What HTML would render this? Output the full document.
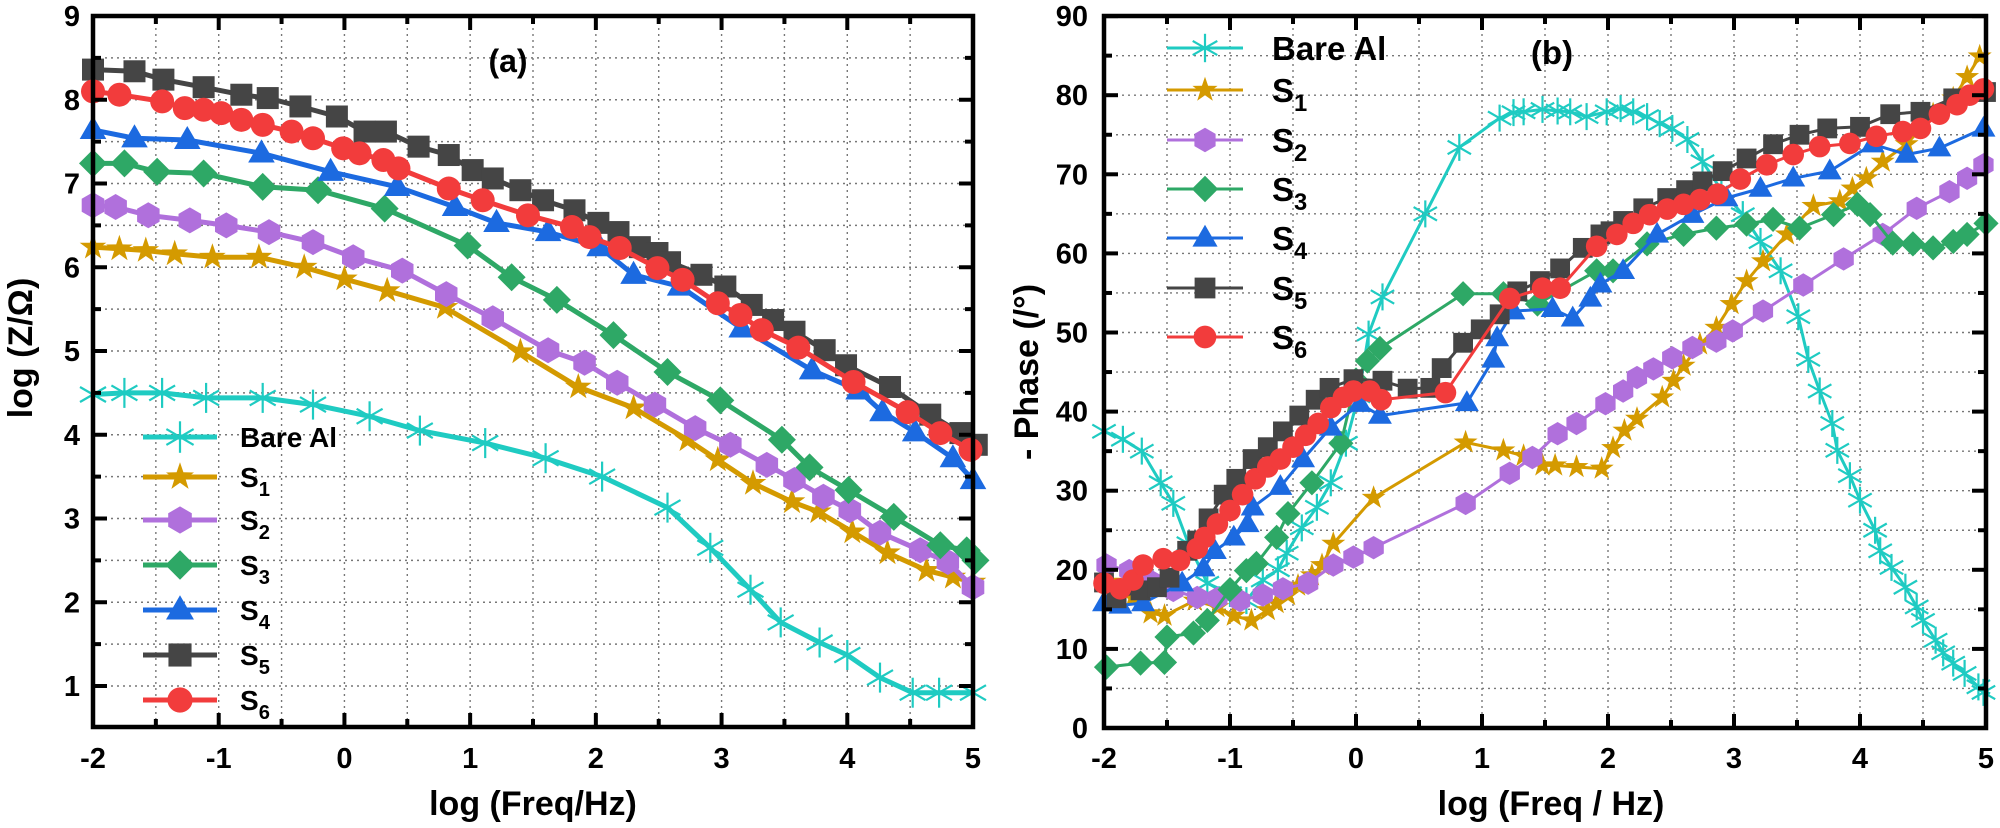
<!DOCTYPE html>
<html><head><meta charset="utf-8"><style>
html,body{margin:0;padding:0;background:#fff;}
svg{display:block;}
text{font-family:"Liberation Sans",Arial,sans-serif;font-weight:bold;fill:#000;}
</style></head><body>
<svg id="s" width="2000" height="828" viewBox="0 0 2000 828" xmlns="http://www.w3.org/2000/svg"></svg>
<script>
var S=document.getElementById('s'),out='';
var C={b:'#1fcbc2',s1:'#d49a00',s2:'#b070dc',s3:'#2ea866',s4:'#1c6ae0',s5:'#454545',s6:'#f23c3c'};
function mk(t,x,y,c,k){k=k||1;var r,p=[],i,a;
 if(t=='circle'){return '<circle cx="'+x+'" cy="'+y+'" r="'+(12*k)+'" fill="'+c+'"/>';}
 if(t=='square'){r=11*k;return '<rect x="'+(x-r)+'" y="'+(y-r)+'" width="'+2*r+'" height="'+2*r+'" fill="'+c+'"/>';}
 if(t=='diamond'){r=14*k;return '<polygon points="'+x+','+(y-r)+' '+(x+r)+','+y+' '+x+','+(y+r)+' '+(x-r)+','+y+'" fill="'+c+'"/>';}
 if(t=='tri'){r=14*k;return '<polygon points="'+x+','+(y-r)+' '+(x+r*0.95)+','+(y+r*0.65)+' '+(x-r*0.95)+','+(y+r*0.65)+'" fill="'+c+'"/>';}
 if(t=='hex'){r=13*k;for(i=0;i<6;i++){a=Math.PI/2+i*Math.PI/3;p.push((x+r*Math.cos(a)).toFixed(1)+','+(y+r*Math.sin(a)).toFixed(1));}return '<polygon points="'+p.join(' ')+'" fill="'+c+'"/>';}
 if(t=='star'){for(i=0;i<10;i++){a=-Math.PI/2+i*Math.PI/5;var rr=(i%2?5.5:14)*k;p.push((x+rr*Math.cos(a)).toFixed(1)+','+(y+rr*Math.sin(a)).toFixed(1));}return '<polygon points="'+p.join(' ')+'" fill="'+c+'"/>';}
 if(t=='ast'){r=15*k;var s='';for(i=0;i<3;i++){a=Math.PI/2+i*Math.PI/3;s+='<line x1="'+(x-r*Math.cos(a)).toFixed(1)+'" y1="'+(y-r*Math.sin(a)).toFixed(1)+'" x2="'+(x+r*Math.cos(a)).toFixed(1)+'" y2="'+(y+r*Math.sin(a)).toFixed(1)+'" stroke="'+c+'" stroke-width="2.2"/>';}return s;}
}
function panel(P){
 var X=function(v){return P.x0+(v+2)*(P.x1-P.x0)/7;},Y=P.Y,i,v;
 // grid
 for(v=-1.5;v<5;v+=0.5)out+='<line x1="'+X(v)+'" y1="'+P.top+'" x2="'+X(v)+'" y2="'+P.bot+'" stroke="#777" stroke-width="1.4" stroke-dasharray="2,4"/>';
 P.gy.forEach(function(g){out+='<line x1="'+P.x0+'" y1="'+Y(g)+'" x2="'+P.x1+'" y2="'+Y(g)+'" stroke="#777" stroke-width="1.4" stroke-dasharray="2,4"/>';});
 // series
 P.ser.forEach(function(s){var d=s.d.map(function(q){return X(q[0]).toFixed(1)+','+Y(q[1]).toFixed(1);}).join(' ');
  out+='<polyline points="'+d+'" fill="none" stroke="'+s.c+'" stroke-width="'+P.lw+'" stroke-linejoin="round"/>';
  s.d.forEach(function(q){out+=mk(s.m,X(q[0]),Y(q[1]),s.c,P.k);});});
 // ticks
 for(v=-2;v<=5;v+=0.5){var L=(v%1==0)?14:8,x=X(v);
  out+='<line x1="'+x+'" y1="'+P.bot+'" x2="'+x+'" y2="'+(P.bot-L)+'" stroke="#000" stroke-width="4"/>';
  out+='<line x1="'+x+'" y1="'+P.top+'" x2="'+x+'" y2="'+(P.top+L)+'" stroke="#000" stroke-width="4"/>';
  if(v%1==0)out+='<text x="'+x+'" y="768" font-size="29" text-anchor="middle">'+v+'</text>';}
 P.yt.forEach(function(t){var y=Y(t[0]),L=t[1]?14:8;
  out+='<line x1="'+P.x0+'" y1="'+y+'" x2="'+(P.x0+L)+'" y2="'+y+'" stroke="#000" stroke-width="4"/>';
  out+='<line x1="'+P.x1+'" y1="'+y+'" x2="'+(P.x1-L)+'" y2="'+y+'" stroke="#000" stroke-width="4"/>';
  if(t[1])out+='<text x="'+P.lx+'" y="'+(y+10)+'" font-size="29" text-anchor="end">'+t[0]+'</text>';});
 out+='<rect x="'+P.x0+'" y="'+P.top+'" width="'+(P.x1-P.x0)+'" height="'+(P.bot-P.top)+'" fill="none" stroke="#000" stroke-width="4.5"/>';
 // legend
 P.ser.forEach(function(s,i){var y=P.lg.y[i];
  out+='<line x1="'+P.lg.x1+'" y1="'+y+'" x2="'+P.lg.x2+'" y2="'+y+'" stroke="'+s.c+'" stroke-width="'+P.lw+'"/>';
  out+=mk(s.m,(P.lg.x1+P.lg.x2)/2,y,s.c,P.k*1.05);
  var lab=i==0?'Bare Al':'S<tspan dy="9" font-size="'+(P.lg.fs*0.72)+'">'+i+'</tspan>';
  out+='<text x="'+P.lg.tx+'" y="'+(y+P.lg.fs*0.36)+'" font-size="'+P.lg.fs+'">'+lab+'</text>';});
}
var A={x0:93,x1:973,top:16,bot:727,Y:function(v){return 16+(9-v)*83.75;},lw:5,k:1,lx:80,
 gy:[1,1.5,2,2.5,3,3.5,4,4.5,5,5.5,6,6.5,7,7.5,8,8.5],
 yt:[[1,1],[1.5,0],[2,1],[2.5,0],[3,1],[3.5,0],[4,1],[4.5,0],[5,1],[5.5,0],[6,1],[6.5,0],[7,1],[7.5,0],[8,1],[8.5,0],[9,1]],
 lg:{x1:143,x2:217,tx:240,fs:28,y:[437,477,520,565,610,655,700]},
 ser:[
 {c:C.b,m:'ast',d:[[-2,4.48],[-1.75,4.5],[-1.45,4.5],[-1.1,4.44],[-0.65,4.44],[-0.25,4.36],[0.2,4.22],[0.6,4.05],[1.12,3.9],[1.6,3.72],[2.05,3.5],[2.57,3.13],[2.91,2.65],[3.23,2.15],[3.47,1.76],[3.78,1.52],[4.0,1.37],[4.26,1.1],[4.52,0.92],[4.73,0.92],[5,0.92]]},
 {c:C.s1,m:'star',d:[[-2,6.24],[-1.79,6.22],[-1.58,6.2],[-1.35,6.16],[-1.05,6.12],[-0.68,6.12],[-0.32,6.0],[0,5.86],[0.34,5.72],[0.8,5.52],[1.4,4.99],[1.86,4.57],[2.3,4.32],[2.73,3.94],[2.97,3.7],[3.25,3.42],[3.56,3.2],[3.77,3.08],[4.04,2.84],[4.32,2.59],[4.63,2.38],[4.84,2.3],[5,2.24]]},
 {c:C.s2,m:'hex',d:[[-2,6.74],[-1.82,6.72],[-1.56,6.62],[-1.23,6.56],[-0.94,6.5],[-0.6,6.42],[-0.25,6.3],[0.07,6.12],[0.46,5.96],[0.81,5.68],[1.18,5.39],[1.62,5.01],[1.91,4.86],[2.17,4.62],[2.47,4.36],[2.79,4.08],[3.07,3.88],[3.36,3.64],[3.58,3.46],[3.81,3.26],[4.02,3.1],[4.26,2.83],[4.58,2.62],[4.8,2.48],[5,2.18]]},
 {c:C.s3,m:'diamond',d:[[-2,7.24],[-1.75,7.24],[-1.49,7.14],[-1.12,7.12],[-0.65,6.96],[-0.21,6.92],[0.32,6.7],[0.98,6.26],[1.33,5.88],[1.69,5.61],[2.14,5.19],[2.57,4.75],[2.99,4.41],[3.48,3.94],[3.7,3.61],[4.01,3.34],[4.37,3.02],[4.74,2.68],[4.95,2.62],[5.02,2.5]]},
 {c:C.s4,m:'tri',d:[[-2,7.64],[-1.67,7.54],[-1.25,7.52],[-0.66,7.36],[-0.11,7.14],[0.42,6.96],[0.88,6.72],[1.21,6.53],[1.62,6.42],[2.03,6.24],[2.3,5.91],[2.67,5.77],[3.16,5.27],[3.72,4.77],[4.09,4.53],[4.28,4.27],[4.54,4.03],[4.84,3.72],[5,3.46]]},
 {c:C.s5,m:'square',d:[[-2,8.36],[-1.67,8.34],[-1.44,8.24],[-1.12,8.15],[-0.82,8.06],[-0.61,8.02],[-0.35,7.92],[-0.06,7.8],[0.16,7.62],[0.33,7.62],[0.59,7.44],[0.83,7.34],[1.02,7.16],[1.18,7.06],[1.4,6.92],[1.58,6.8],[1.83,6.68],[2.02,6.53],[2.18,6.42],[2.35,6.24],[2.49,6.17],[2.59,6.06],[2.84,5.91],[3.03,5.77],[3.24,5.55],[3.41,5.37],[3.58,5.23],[3.82,5.01],[3.99,4.83],[4.34,4.57],[4.66,4.24],[4.9,4.02],[5.03,3.88]]},
 {c:C.s6,m:'circle',d:[[-2,8.1],[-1.79,8.06],[-1.45,7.98],[-1.27,7.9],[-1.12,7.88],[-0.98,7.84],[-0.82,7.76],[-0.65,7.7],[-0.42,7.62],[-0.25,7.54],[-0.01,7.42],[0.12,7.36],[0.31,7.28],[0.43,7.18],[0.83,6.94],[1.1,6.8],[1.46,6.62],[1.81,6.48],[1.95,6.36],[2.19,6.23],[2.49,5.99],[2.69,5.85],[2.97,5.57],[3.15,5.43],[3.32,5.25],[3.61,5.04],[4.05,4.63],[4.48,4.27],[4.74,4.02],[4.98,3.82]]}
 ]};
var B={x0:1104,x1:1986,top:16,bot:728,Y:function(v){return 728-v*7.91;},lw:3,k:0.9,lx:1088,
 gy:[5,10,15,20,25,30,35,40,45,50,55,60,65,70,75,80,85],
 yt:[],
 lg:{x1:1167,x2:1243,tx:1272,fs:33,y:[48,90,140,189,238,288,337]},
 ser:[
 {c:C.b,m:'ast',d:[[-2,37.5],[-1.85,36.5],[-1.7,35],[-1.55,31],[-1.45,28.4],[-1.33,23.3],[-1.18,18.3],[-1,17],[-0.87,16.1],[-0.74,18.7],[-0.62,20],[-0.55,22.1],[-0.43,25.3],[-0.31,27.9],[-0.2,31],[-0.08,36],[0.02,42],[0.1,49.8],[0.21,54.5],[0.55,65],[0.82,73.4],[1.14,77.1],[1.25,77.8],[1.33,77.9],[1.48,78.2],[1.6,78],[1.7,77.9],[1.83,77.3],[1.99,77.9],[2.1,78.3],[2.2,77.9],[2.31,77.3],[2.41,76.4],[2.51,75.8],[2.63,74.4],[2.75,71.6],[2.9,68],[3.07,64.9],[3.21,61.5],[3.37,57.8],[3.51,52],[3.59,46.6],[3.68,42.6],[3.78,38.5],[3.82,35.1],[3.92,31.9],[4.0,28.8],[4.12,25],[4.16,22.4],[4.25,20.3],[4.36,17.8],[4.45,15.3],[4.5,13.6],[4.6,11.1],[4.66,9.5],[4.74,8.2],[4.83,6.9],[4.94,5.2],[4.98,4.5]]},
 {c:C.s1,m:'star',d:[[-1.95,18.5],[-1.77,16.5],[-1.63,14.5],[-1.52,14.2],[-1.28,16.1],[-1.1,15.3],[-0.97,14.2],[-0.83,13.6],[-0.7,14.9],[-0.63,15.8],[-0.54,16.8],[-0.46,18],[-0.35,19.3],[-0.27,20.6],[-0.18,23.3],[0.14,29.1],[0.87,36.1],[1.17,35.1],[1.33,34.4],[1.48,33.2],[1.58,33.2],[1.75,33],[1.95,32.8],[2.04,35.4],[2.13,37.6],[2.23,39.1],[2.43,41.8],[2.52,43.9],[2.6,45.8],[2.73,48.5],[2.86,50.6],[2.98,53.6],[3.1,56.5],[3.23,59],[3.42,62.4],[3.63,66],[3.84,66.6],[3.94,68.2],[4.05,69.5],[4.18,71.6],[4.37,73.8],[4.58,77.6],[4.74,79.6],[4.85,82.3],[4.95,84.9]]},
 {c:C.s2,m:'hex',d:[[-1.98,20.6],[-1.8,19.9],[-1.62,18.5],[-1.45,17.4],[-1.26,16.5],[-1.1,16.4],[-0.92,16.1],[-0.74,16.8],[-0.58,17.6],[-0.38,18.3],[-0.18,20.6],[-0.02,21.6],[0.14,22.8],[0.87,28.4],[1.22,32.2],[1.4,34.2],[1.6,37.2],[1.75,38.5],[1.98,41],[2.12,42.6],[2.23,44.3],[2.36,45.4],[2.51,46.8],[2.67,48.1],[2.86,48.9],[2.99,50.2],[3.23,52.7],[3.55,56],[3.87,59.3],[4.18,62.4],[4.45,65.7],[4.71,67.8],[4.85,69.5],[4.98,71.2]]},
 {c:C.s3,m:'diamond',d:[[-1.98,7.7],[-1.71,8.2],[-1.52,8.3],[-1.5,11.5],[-1.29,12],[-1.18,13.6],[-1.0,17.5],[-0.87,19.9],[-0.79,20.8],[-0.63,24.1],[-0.54,27.1],[-0.35,31],[-0.12,36],[0.0,44],[0.09,46.4],[0.19,48],[0.85,54.9],[1.17,54.9],[1.44,53.6],[1.91,57.8],[2.04,57.8],[2.31,61.2],[2.6,62.4],[2.86,63.2],[3.1,63.7],[3.31,64.3],[3.52,63.2],[3.79,64.9],[3.98,66.2],[4.08,64.9],[4.26,61.3],[4.42,61.2],[4.58,60.7],[4.74,61.5],[4.85,62.4],[5.0,63.8]]},
 {c:C.s4,m:'tri',d:[[-2.0,15.8],[-1.87,15.5],[-1.69,15.8],[-1.38,18.3],[-1.21,20.2],[-1.12,22.4],[-0.97,24.1],[-0.86,25.8],[-0.82,27.9],[-0.6,30.5],[-0.42,34],[-0.2,38],[0.03,41],[0.19,39.5],[0.88,41.1],[1.09,46.6],[1.12,49.3],[1.25,52.7],[1.56,53],[1.72,51.8],[1.86,54.3],[1.94,56.1],[2.12,57.8],[2.39,62.4],[2.67,64.9],[2.94,67],[3.21,68.2],[3.47,69.5],[3.76,70.4],[4.1,73.8],[4.37,72.5],[4.63,73.3],[4.98,75.8]]},
 {c:C.s5,m:'square',d:[[-2.0,18.4],[-1.9,16.4],[-1.71,17.4],[-1.58,17.8],[-1.48,19],[-1.34,22.4],[-1.26,23.7],[-1.17,26.5],[-1.05,29.5],[-0.95,31.5],[-0.82,34],[-0.7,35.5],[-0.58,37.5],[-0.45,39.5],[-0.32,41.5],[-0.21,43],[-0.02,44.1],[0.21,43.9],[0.41,42.9],[0.59,43],[0.68,45.5],[0.85,48.7],[0.99,50.4],[1.14,52.3],[1.28,55.2],[1.46,56.5],[1.62,58.1],[1.8,60.7],[1.94,62.4],[2.02,62.8],[2.12,64.1],[2.28,65.7],[2.47,67],[2.62,68],[2.75,69.1],[2.91,70.4],[3.1,72],[3.31,73.8],[3.52,75],[3.74,75.8],[4.0,76],[4.24,77.6],[4.48,77.9],[4.74,79.6],[5.0,80.4]]},
 {c:C.s6,m:'circle',d:[[-2.0,18.3],[-1.87,17.6],[-1.77,18.7],[-1.69,20.6],[-1.53,21.4],[-1.4,21.2],[-1.26,22.7],[-1.2,24.1],[-1.1,25.8],[-1.0,27.5],[-0.9,29.5],[-0.8,31.5],[-0.7,33],[-0.6,34],[-0.5,35.5],[-0.4,37],[-0.3,38.5],[-0.2,40.5],[-0.1,41.8],[-0.02,42.6],[0.11,42.6],[0.2,41.5],[0.71,42.4],[1.22,54.3],[1.48,55.6],[1.62,55.6],[1.91,60.9],[2.07,62.4],[2.2,63.8],[2.33,64.9],[2.47,65.6],[2.6,66.2],[2.73,66.8],[2.87,67.5],[3.05,69.4],[3.26,71.2],[3.47,72.5],[3.68,73.5],[3.92,73.9],[4.13,74.8],[4.34,75.4],[4.48,75.8],[4.63,77.6],[4.77,78.8],[4.87,80],[4.98,80.8]]}
 ]};
for(var t=0;t<=90;t+=5)B.yt.push([t,t%10==0]);
panel(A);panel(B);
out+='<text x="508" y="72" font-size="32" text-anchor="middle">(a)</text>';
out+='<text x="1552" y="64" font-size="33" text-anchor="middle">(b)</text>';
out+='<text transform="translate(32,348) rotate(-90)" font-size="34" text-anchor="middle">log (Z/&#937;)</text>';
out+='<text transform="translate(1038,372) rotate(-90)" font-size="34" text-anchor="middle">- Phase (/&#176;)</text>';
out+='<text x="533" y="815" font-size="34" text-anchor="middle">log (Freq/Hz)</text>';
out+='<text x="1551" y="815" font-size="34" text-anchor="middle">log (Freq / Hz)</text>';
S.innerHTML=out;
</script>
</body></html>
